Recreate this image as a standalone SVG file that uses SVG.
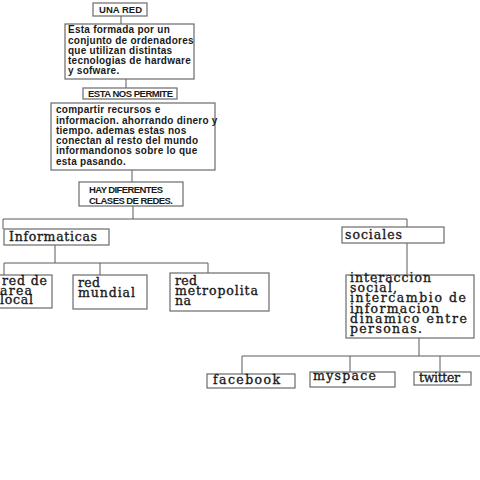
<svg xmlns="http://www.w3.org/2000/svg" width="480" height="480" viewBox="0 0 480 480">
<style>
.b{fill:#fff;stroke:#6a6a6a;stroke-width:1.2}
.s{font-family:"Liberation Sans",Arial,sans-serif;font-weight:bold;font-size:10px;letter-spacing:0.25px;fill:#1a1a1a}
.u{font-family:"Liberation Sans",Arial,sans-serif;font-weight:bold;font-size:9.5px;fill:#1a1a1a}
.f{font-family:"DejaVu Serif",serif;font-size:12.5px;fill:#1a1a1a;stroke:#1a1a1a;stroke-width:0.35px}
#c path{fill:none;stroke:#5a5a5a;stroke-width:1}
</style>
<rect width="480" height="480" fill="#fff"/>
<g id="c">
<path d="M121 16V24"/>
<path d="M126 79V88"/>
<path d="M132 170V182"/>
<path d="M133 206V219"/>
<path d="M3 219H407"/>
<path d="M3 219V229"/>
<path d="M407 219V227"/>
<path d="M55 245V263"/>
<path d="M4 263H208"/>
<path d="M4 263V275"/>
<path d="M100 263V275"/>
<path d="M208 263V273"/>
<path d="M407 243V275"/>
<path d="M419 338V356"/>
<path d="M242 356H480"/>
<path d="M242 356V374"/>
<path d="M350 356V372"/>
<path d="M440 356V372"/>
</g>
<g id="una"><rect class="b" x="93" y="3" width="54" height="13"/><text class="u" x="99" y="13" textLength="43">UNA  RED</text></g>
<g id="def"><rect class="b" x="65" y="24" width="129" height="55"/>
<text class="s" x="68" y="33">Esta formada por un</text>
<text class="s" x="68" y="43.5">conjunto de ordenadores</text>
<text class="s" x="68" y="54">que utilizan distintas</text>
<text class="s" x="68" y="64">tecnologias de hardware</text>
<text class="s" x="68" y="74">y sofware.</text></g>
<g id="permite"><rect class="b" x="83" y="88" width="94" height="11"/><text class="u" x="88" y="97" textLength="85">ESTA NOS PERMITE</text></g>
<g id="compartir"><rect class="b" x="51" y="103" width="164" height="67"/>
<text class="s" x="56" y="113">compartir recursos  e</text>
<text class="s" x="56" y="123.5">informacion. ahorrando dinero y</text>
<text class="s" x="56" y="134">tiempo. ademas estas nos</text>
<text class="s" x="56" y="144">conectan al resto del mundo</text>
<text class="s" x="56" y="154">informandonos sobre lo que</text>
<text class="s" x="56" y="164.5">esta pasando.</text></g>
<g id="hay"><rect class="b" x="79" y="182" width="104" height="24"/>
<text class="u" x="89" y="192.5" textLength="74">HAY DIFERENTES</text>
<text class="u" x="89" y="204" textLength="84">CLASES DE REDES.</text></g>
<g id="informaticas"><rect class="b" x="4" y="229" width="105" height="16"/><text class="f" x="9" y="240.5" textLength="88">Informaticas</text></g>
<g id="sociales"><rect class="b" x="342" y="227" width="102" height="16"/><text class="f" x="345" y="238.5" textLength="57">sociales</text></g>
<g id="area"><rect class="b" x="-1" y="275" width="53" height="33"/>
<text class="f" x="2" y="285" textLength="45">red de</text>
<text class="f" x="0" y="294.5" textLength="32">area</text>
<text class="f" x="0" y="304" textLength="33">local</text></g>
<g id="mundial"><rect class="b" x="73" y="275" width="74" height="34"/>
<text class="f" x="78" y="286.5" textLength="22">red</text>
<text class="f" x="78" y="297" textLength="57">mundial</text></g>
<g id="metro"><rect class="b" x="170" y="273" width="99" height="38"/>
<text class="f" x="175" y="284.5" textLength="22">red</text>
<text class="f" x="175" y="295" textLength="83">metropolita</text>
<text class="f" x="175" y="305" textLength="16">na</text></g>
<g id="interaccion"><rect class="b" x="346" y="275" width="128" height="63"/>
<text class="f" x="350" y="282" textLength="81">interaccion</text>
<text class="f" x="350" y="292" textLength="47">social,</text>
<text class="f" x="350" y="302" textLength="116">intercambio de</text>
<text class="f" x="350" y="312.5" textLength="89">informacion</text>
<text class="f" x="350" y="323" textLength="117">dinamico entre</text>
<text class="f" x="350" y="333" textLength="72">personas.</text></g>
<g id="facebook"><rect class="b" x="207" y="374" width="88" height="14"/><text class="f" x="213" y="383.5" textLength="67">facebook</text></g>
<g id="myspace"><rect class="b" x="310" y="372" width="85" height="15"/><text class="f" x="313" y="380" textLength="63">myspace</text></g>
<g id="twitter"><rect class="b" x="414" y="372" width="57" height="13"/><text class="f" x="419" y="382" textLength="41">twitter</text></g>
</svg>
